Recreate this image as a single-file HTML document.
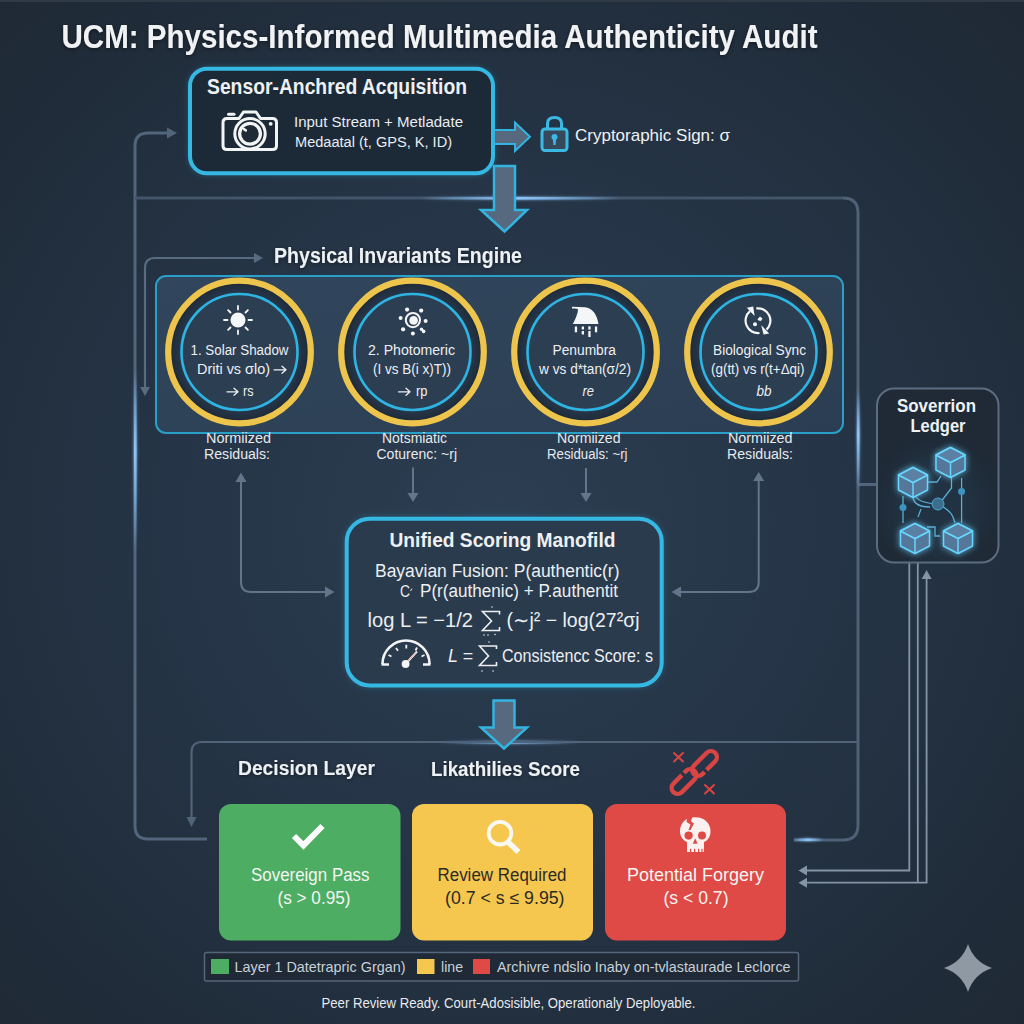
<!DOCTYPE html>
<html><head><meta charset="utf-8">
<style>
html,body{margin:0;padding:0;width:1024px;height:1024px;overflow:hidden;background:#1f2833;}
svg{display:block;}
text{font-family:"Liberation Sans",sans-serif;}
</style></head>
<body>
<svg width="1024" height="1024" viewBox="0 0 1024 1024">
<defs>
  <radialGradient id="bg" cx="500" cy="520" r="760" gradientUnits="userSpaceOnUse">
    <stop offset="0" stop-color="#2c3e52"/>
    <stop offset="0.45" stop-color="#253446"/>
    <stop offset="0.8" stop-color="#202c39"/>
    <stop offset="1" stop-color="#1e2834"/>
  </radialGradient>
  <filter id="glow" x="-20%" y="-20%" width="140%" height="140%">
    <feGaussianBlur stdDeviation="3" result="b"/>
    <feMerge><feMergeNode in="b"/><feMergeNode in="SourceGraphic"/></feMerge>
  </filter>
  <filter id="tsh" x="-5%" y="-30%" width="110%" height="160%">
    <feGaussianBlur in="SourceAlpha" stdDeviation="2"/>
    <feOffset dy="1"/>
    <feComponentTransfer><feFuncA type="linear" slope="0.5"/></feComponentTransfer>
    <feMerge><feMergeNode/><feMergeNode in="SourceGraphic"/></feMerge>
  </filter>
  <marker id="ah" viewBox="0 0 10 10" refX="9" refY="5" markerWidth="4" markerHeight="4" orient="auto-start-reverse" markerUnits="strokeWidth">
    <path d="M0,0 L10,5 L0,10 z" fill="#5c6e82"/>
  </marker>
  <linearGradient id="gh" x1="0" y1="0" x2="1" y2="0">
    <stop offset="0" stop-color="#7ab8f0" stop-opacity="0"/>
    <stop offset="0.5" stop-color="#8cc4f8" stop-opacity="1"/>
    <stop offset="1" stop-color="#7ab8f0" stop-opacity="0"/>
  </linearGradient>
  <linearGradient id="gv" x1="0" y1="0" x2="0" y2="1">
    <stop offset="0" stop-color="#7ab8f0" stop-opacity="0"/>
    <stop offset="0.45" stop-color="#8cc4f8" stop-opacity="1"/>
    <stop offset="1" stop-color="#7ab8f0" stop-opacity="0"/>
  </linearGradient>
  <filter id="soft" x="-50%" y="-50%" width="200%" height="200%">
    <feGaussianBlur stdDeviation="1.6" result="b"/>
    <feMerge><feMergeNode in="b"/><feMergeNode in="SourceGraphic"/></feMerge>
  </filter>
  <linearGradient id="panelg" x1="0" y1="0" x2="1" y2="1">
    <stop offset="0" stop-color="#31465c"/>
    <stop offset="0.5" stop-color="#2e4258"/>
    <stop offset="1" stop-color="#2b3d52"/>
  </linearGradient>
  <radialGradient id="ringg" cx="0" cy="0" r="68.5" gradientUnits="userSpaceOnUse">
    <stop offset="0.8" stop-color="#2c3e52"/>
    <stop offset="0.88" stop-color="#253547"/>
    <stop offset="1" stop-color="#1f2b3a"/>
  </radialGradient>
  <filter id="fglow" x="-10%" y="-10%" width="120%" height="120%">
    <feGaussianBlur in="SourceAlpha" stdDeviation="3" result="b"/>
    <feFlood flood-color="#35b8e4" flood-opacity="0.25"/>
    <feComposite in2="b" operator="in" result="g"/>
    <feMerge><feMergeNode in="g"/><feMergeNode in="SourceGraphic"/></feMerge>
  </filter>
  <filter id="bigblur" x="-50%" y="-50%" width="200%" height="200%">
    <feGaussianBlur stdDeviation="10"/>
  </filter>
</defs>
<rect width="1024" height="1024" fill="url(#bg)"/>
<rect width="1024" height="2" fill="#2f3a45"/>

<!-- TITLE -->
<text x="61.5" y="48" font-size="33" font-weight="bold" fill="#f0f2f4" textLength="756" lengthAdjust="spacingAndGlyphs" filter="url(#tsh)">UCM: Physics-Informed Multimedia Authenticity Audit</text>

<!-- FRAME LINES -->
<g fill="none" stroke="#52657a" stroke-width="3">
  <!-- left outer loop: from bottom (207,839) left, up x=135 to y=146, curve to right arrow -->
  <path d="M207,839 H148 Q135,839 135,826 V146 Q135,133 148,133 H168"/>
  <!-- top horizontal y=198 -->
  <path d="M135,198 H843" stroke="#43556a"/>
  <path d="M843,198 Q858,198 858,213 V825 Q858,840 843,840 H794" stroke="#4f6176"/>
  <!-- connection to ledger -->
  <path d="M858,484.5 H877"/>
</g>
<polygon points="167,127.5 177,133 167,138.5" fill="#52657a"/>
<!-- glow segments on frame -->
<g filter="url(#soft)">
  <rect x="420" y="197" width="200" height="2.5" fill="url(#gh)"/>
  <rect x="134" y="370" width="2.5" height="180" fill="url(#gv)"/>
  <rect x="857" y="390" width="2.5" height="100" fill="url(#gv)"/>
  <rect x="440" y="741" width="140" height="2.5" fill="url(#gh)"/>
  <rect x="793" y="838.5" width="30" height="2.5" fill="url(#gh)"/>
</g>
<!-- engine inner loop -->
<g fill="none" stroke="#586b80" stroke-width="2.2">
  <path d="M145,388 V268 Q145,258 155,258 H255"/>
</g>
<polygon points="254,253 263,258 254,263" fill="#586b80"/>
<polygon points="140,387 145,396 150,387" fill="#586b80"/>

<!-- decision loop -->
<g fill="none" stroke="#506378" stroke-width="2.2">
  <path d="M857,742 H202 Q191.5,742 191.5,752.5 V818"/>
</g>
<polygon points="186.5,817 191.5,827 196.5,817" fill="#506378"/>

<!-- ACQUISITION BOX -->
<rect x="190" y="68.7" width="303" height="104.6" rx="17" fill="#1f2a37" stroke="#35b8e4" stroke-width="4" filter="url(#fglow)"/>
<text x="207" y="93.5" font-size="22" font-weight="bold" fill="#eef1f4" textLength="260" lengthAdjust="spacingAndGlyphs">Sensor-Anchred Acquisition</text>
<!-- camera -->
<g fill="none" stroke="#f2f4f6" stroke-width="3" stroke-linejoin="round" stroke-linecap="round">
  <path d="M239,118.5 L243.5,112 H256 L260.5,118.5 H272.5 Q276.5,118.5 276.5,122.5 V145.5 Q276.5,149.5 272.5,149.5 H227 Q223,149.5 223,145.5 V122.5 Q223,118.5 227,118.5 Z"/>
  <circle cx="250" cy="133.7" r="15.2" fill="#1f2a36"/>
  <circle cx="250" cy="133.7" r="10.4" stroke-width="3.3"/>
  <path d="M228.5,114.2 H234"/>
  <path d="M243.8,129 L245.8,130.4" stroke-width="2.6"/>
</g>
<circle cx="270.7" cy="123.8" r="1.9" fill="#f2f4f6"/>
<text x="294" y="126.5" font-size="14" fill="#e9edf1" textLength="169" lengthAdjust="spacingAndGlyphs">Input Stream + Metladate</text>
<text x="295" y="146.5" font-size="14" fill="#e9edf1" textLength="157" lengthAdjust="spacingAndGlyphs">Medaatal (t, GPS, K, ID)</text>

<!-- right arrow -->
<polygon points="494,130 515,130 515,122.5 530,136.8 515,151 515,144 494,144" fill="#56697e" stroke="#33b4e0" stroke-width="2" stroke-linejoin="miter"/>
<!-- lock -->
<g fill="none" stroke="#3ab9e4" stroke-width="3">
  <path d="M547.5,129 V123.5 Q547.5,117.5 554.5,117.5 Q561.5,117.5 561.5,123.5 V129"/>
  <rect x="542" y="129" width="25" height="21.5" rx="3" fill="#36495c"/>
</g>
<circle cx="554.5" cy="137" r="3" fill="#3ab9e4"/>
<path d="M552.8,138 H556.2 L555.6,145 H553.4 Z" fill="#3ab9e4"/>
<text x="575" y="141.3" font-size="17" fill="#eef1f4" textLength="155" lengthAdjust="spacingAndGlyphs">Cryptoraphic Sign: σ</text>

<!-- down arrow 1 -->
<polygon points="494,166 515,166 515,210 527,210 504.5,231.5 481,210 494,210" fill="#56697e" stroke="#33b4e0" stroke-width="2.5"/>

<!-- ENGINE -->
<text x="274" y="263.3" font-size="22" font-weight="bold" fill="#eef1f4" textLength="248" lengthAdjust="spacingAndGlyphs" filter="url(#tsh)">Physical Invariants Engine</text>
<rect x="156" y="276" width="687" height="157" rx="10" fill="url(#panelg)" stroke="#2a9fc8" stroke-width="2"/>
<g id="circ">
  <g transform="translate(239.5,352)">
    <circle r="68.5" fill="url(#ringg)"/>
    <circle r="71.3" fill="none" stroke="#eec54c" stroke-width="6.2"/>
    <circle r="58" fill="#2c3e52" stroke="#2db4e2" stroke-width="2.6"/>
  </g>
  <g transform="translate(412.5,352)">
    <circle r="68.5" fill="url(#ringg)"/>
    <circle r="71.3" fill="none" stroke="#eec54c" stroke-width="6.2"/>
    <circle r="58" fill="#2c3e52" stroke="#2db4e2" stroke-width="2.6"/>
  </g>
  <g transform="translate(585.5,352)">
    <circle r="68.5" fill="url(#ringg)"/>
    <circle r="71.3" fill="none" stroke="#eec54c" stroke-width="6.2"/>
    <circle r="58" fill="#2c3e52" stroke="#2db4e2" stroke-width="2.6"/>
  </g>
  <g transform="translate(758.5,352)">
    <circle r="68.5" fill="url(#ringg)"/>
    <circle r="71.3" fill="none" stroke="#eec54c" stroke-width="6.2"/>
    <circle r="58" fill="#2c3e52" stroke="#2db4e2" stroke-width="2.6"/>
  </g>
</g>
<g fill="#eceff2" font-size="14">
  <text x="190.5" y="355" textLength="98" lengthAdjust="spacingAndGlyphs">1. Solar Shadow</text>
  <text x="197" y="374" textLength="73" lengthAdjust="spacingAndGlyphs">Driti vs σlo)</text>
  <text x="243" y="396" textLength="10.5" lengthAdjust="spacingAndGlyphs">rs</text>
  <text x="368" y="355" textLength="87" lengthAdjust="spacingAndGlyphs">2. Photomeric</text>
  <text x="373" y="374" textLength="78" lengthAdjust="spacingAndGlyphs">(I vs B(i x)T))</text>
  <text x="416" y="396" textLength="11.5" lengthAdjust="spacingAndGlyphs">rp</text>
  <text x="552.5" y="355" textLength="63.5" lengthAdjust="spacingAndGlyphs">Penumbra</text>
  <text x="539" y="374" textLength="92" lengthAdjust="spacingAndGlyphs">w vs d*tan(σ/2)</text>
  <text x="582.5" y="396" font-style="italic" textLength="11.5" lengthAdjust="spacingAndGlyphs">re</text>
  <text x="713" y="355" textLength="93" lengthAdjust="spacingAndGlyphs">Biological Sync</text>
  <text x="711" y="374" textLength="93.5" lengthAdjust="spacingAndGlyphs">(g(tt) vs r(t+Δqi)</text>
  <text x="756.5" y="396" font-style="italic" textLength="15" lengthAdjust="spacingAndGlyphs">bb</text>
</g>
<g fill="none" stroke="#eceff2" stroke-width="1.3" stroke-linecap="round" stroke-linejoin="round">
  <path d="M274,369.8 H286 M282,366.3 L286,369.8 L282,373.3"/>
  <path d="M227,391.8 H238 M234,388.3 L238,391.8 L234,395.3"/>
  <path d="M398.5,391.8 H410 M406,388.3 L410,391.8 L406,395.3"/>
</g>
<!-- circle icons -->
<g fill="#f4f6f8" stroke="#f4f6f8" stroke-width="1.8" stroke-linecap="round">
  <!-- sun -->
  <circle cx="238" cy="320" r="7.5" stroke="none"/>
  <path d="M238,306 V309.5 M238,330.5 V334 M224,320 H227.5 M248.5,320 H252 M228.1,310.1 L230.5,312.5 M245.5,327.5 L247.9,329.9 M228.1,329.9 L230.5,327.5 M245.5,312.5 L247.9,310.1"/>
  <!-- photometric -->
  <circle cx="412.9" cy="320.1" r="7.1" fill="none" stroke-width="2.1"/>
  <circle cx="413.6" cy="320.4" r="4.3" stroke="none"/>
  <g stroke="none">
    <circle cx="407.1" cy="309.6" r="2.1"/><circle cx="421.2" cy="310.6" r="2.1"/>
    <circle cx="400.6" cy="318" r="2"/><circle cx="425.6" cy="321" r="2"/>
    <circle cx="403.1" cy="329.3" r="2.1"/><circle cx="412.9" cy="333.5" r="2"/>
    <circle cx="421.5" cy="329.2" r="1.7"/><circle cx="423.6" cy="331.4" r="1.8"/>
  </g>
  <!-- penumbra -->
  <path d="M572,306.8 L585,307.3 C592,308 597,314 598.5,324 L572.8,324 C576,318 578,313 578,309 C576,308.6 574,308.6 572,308.6 Z" stroke="none"/>
  <g stroke="none">
    <rect x="574.8" y="326.5" width="2.3" height="5.8"/>
    <rect x="581.7" y="326.5" width="2.3" height="3"/>
    <rect x="581.7" y="331" width="2.3" height="3.5"/>
    <rect x="588.3" y="326.3" width="2.3" height="3.3"/>
    <rect x="588.3" y="331" width="2.3" height="6"/>
    <rect x="594.9" y="326.5" width="2.3" height="5.8"/>
  </g>
  <!-- sync -->
  <path d="M756.3,308.4 A12.4,12.4 0 0 1 766.6,329.6 M759.5,333 A12.4,12.4 0 0 1 750,311.2" fill="none" stroke-width="2.2" stroke-linecap="butt"/>
  <polygon points="746.8,307.8 753.2,306.4 754.6,316" stroke="none"/>
  <polygon points="761.2,325.2 769.2,333.4 763.6,334.6" stroke="none"/>
  <path d="M757.5,319.2 L760,316.5 L762.5,318.5 L761,321 L758.5,320.5 Z" stroke="none"/>
  <circle cx="755" cy="324.2" r="2" stroke="none"/>
</g>

<!-- labels below panel -->
<g fill="#e6eaee" font-size="14">
  <text x="206" y="442.7" textLength="65" lengthAdjust="spacingAndGlyphs">Normiized</text>
  <text x="204" y="458.7" textLength="66" lengthAdjust="spacingAndGlyphs">Residuals:</text>
  <text x="382" y="442.7" textLength="65" lengthAdjust="spacingAndGlyphs">Notsmiatic</text>
  <text x="376.5" y="458.7" textLength="80.5" lengthAdjust="spacingAndGlyphs">Coturenc: ~rj</text>
  <text x="557" y="442.7" textLength="63.5" lengthAdjust="spacingAndGlyphs">Normiized</text>
  <text x="547" y="458.7" textLength="80.5" lengthAdjust="spacingAndGlyphs">Residuals: ~rj</text>
  <text x="728" y="442.7" textLength="64.5" lengthAdjust="spacingAndGlyphs">Normiized</text>
  <text x="727" y="458.7" textLength="66" lengthAdjust="spacingAndGlyphs">Residuals:</text>
</g>

<!-- small arrows between engine and manifold -->
<g fill="none" stroke="#62758a" stroke-width="2">
  <path d="M241,482 V582 Q241,592 251,592 H326"/>
  <path d="M413,467.5 V494"/>
  <path d="M586,468 V494"/>
  <path d="M758.7,481 V582 Q758.7,592 748.7,592 H680"/>
</g>
<g fill="#62758a">
  <polygon points="235.5,482 241,472.5 246.5,482"/>
  <polygon points="325,586.5 334.5,592 325,597.5"/>
  <polygon points="407.5,493 413,502 418.5,493"/>
  <polygon points="580.5,493 586,502 591.5,493"/>
  <polygon points="753.2,481 758.7,472 764.2,481"/>
  <polygon points="681,586.5 671.5,592 681,597.5"/>
</g>

<!-- MANIFOLD -->
<rect x="346.7" y="518.7" width="315" height="166.8" rx="23" fill="#2b3b4e" stroke="#35b8e4" stroke-width="4" filter="url(#fglow)"/>
<text x="389.5" y="546.5" font-size="20" font-weight="bold" fill="#eef1f4" textLength="226" lengthAdjust="spacingAndGlyphs">Unified Scoring Manofild</text>
<g fill="#eceff2">
  <text x="375" y="577" font-size="18" textLength="244.5" lengthAdjust="spacingAndGlyphs">Bayavian Fusion: P(authentic(r)</text>
  <text x="400" y="597" font-size="16" textLength="10" lengthAdjust="spacingAndGlyphs">C</text>
  <text x="420" y="597" font-size="18" textLength="198" lengthAdjust="spacingAndGlyphs">P(r(authenic) + P.authentit</text>
  <text x="367.5" y="627" font-size="20" textLength="105.5" lengthAdjust="spacingAndGlyphs">log L = −1/2</text>
  <text x="506.5" y="627" font-size="20" textLength="133" lengthAdjust="spacingAndGlyphs">(∼j² − log(27²σj</text>
  <text x="448" y="662" font-size="18" font-style="italic" textLength="25" lengthAdjust="spacingAndGlyphs">L =</text>
  <text x="502" y="662" font-size="18.5" textLength="151" lengthAdjust="spacingAndGlyphs">Consistencc Score: s</text>
</g>
<g fill="none" stroke="#eceff2" stroke-width="1.6" stroke-linejoin="miter">
  <path d="M499.5,614.5 V611.5 H482.5 L491.5,621 L482.5,630.5 H499.5 V627"/>
  <path d="M496.5,649 V646 H479.5 L488.5,656 L479.5,665.5 H496.5 V662"/>
</g>
<g fill="#dfe4ea">
  <circle cx="484" cy="635" r="0.8"/><circle cx="488" cy="635" r="0.8"/><circle cx="495" cy="634.5" r="0.8"/>
  <circle cx="492" cy="607" r="0.8"/><path d="M410.5,591 L412,588.5" stroke="#e6eaee" stroke-width="1"/><circle cx="489" cy="642" r="0.8"/>
  <circle cx="482" cy="671" r="0.8"/><circle cx="493" cy="671" r="0.8"/>
</g>
<!-- gauge -->
<g fill="none" stroke="#f2f4f6" stroke-width="2.6" stroke-linecap="butt">
  <path d="M382.5,664 A23.5,23.5 0 0 1 429.5,664"/>
  <path d="M381.5,664.5 H389 M423,664.5 H430.5"/>
  <path d="M388.5,655 L391.5,656.5 M396,648 L398,650.8 M406.3,644.8 V648.5 M417,647.5 L415.5,650.5 M424.5,655 L421.5,656.5" stroke-width="1.8"/>
  <path d="M405.5,664 L417,651.5" stroke-width="2"/>
</g>
<path d="M407,662 L416,652.5" stroke="#e8785a" stroke-width="0.8"/>
<circle cx="405.6" cy="664" r="3.9" fill="#f2f4f6"/>

<!-- down arrow 2 -->
<polygon points="493.5,700.5 514.5,700.5 514.5,727.5 527,727.5 504,748.5 481,727.5 493.5,727.5" fill="#56697e" stroke="#33b4e0" stroke-width="2.5"/>

<!-- DECISION LAYER -->
<text x="238" y="775.3" font-size="20" font-weight="bold" fill="#eef1f4" textLength="137" lengthAdjust="spacingAndGlyphs" filter="url(#tsh)">Decision Layer</text>
<text x="431" y="775.5" font-size="20" font-weight="bold" fill="#eef1f4" textLength="149" lengthAdjust="spacingAndGlyphs" filter="url(#tsh)">Likathilies Score</text>
<!-- broken chain -->
<g fill="none" stroke="#d94542" stroke-width="4.4" stroke-linecap="butt">
  <path transform="translate(704.5,763.5) rotate(-45)" d="M-3,6 H9 A6,6 0 0 0 9,-6 H-9 A6,6 0 0 0 -9,6 H-6"/>
  <path transform="translate(684,781.5) rotate(-45)" d="M3,-6 H-9 A6,6 0 0 0 -9,6 H9 A6,6 0 0 0 9,-6 H6"/>
</g>
<g stroke="#d94542" stroke-width="2" stroke-linecap="round">
  <path d="M674,753 L683,761.5 M683,753 L674,761.5"/>
  <path d="M705,785 L714,793.5 M714,785 L705,793.5"/>
</g>

<!-- decision boxes -->
<rect x="219" y="804" width="181.5" height="136.5" rx="12" fill="#4cad63"/>
<rect x="412" y="804" width="181" height="136.5" rx="12" fill="#f6c74f"/>
<rect x="605" y="804" width="181" height="136.5" rx="12" fill="#df4a46"/>
<!-- check -->
<path d="M294,836 L303.4,845.4 L322.5,826" fill="none" stroke="#fbfbfb" stroke-width="6"/>
<!-- magnifier -->
<g fill="none" stroke="#faf8f2">
  <circle cx="500" cy="833.2" r="11.3" stroke-width="3.8"/>
  <path d="M507.5,841.5 L518.5,852" stroke-width="5.5"/>
</g>
<!-- skull -->
<path d="M695,817.3 C704.5,817.3 710.5,823.5 710.5,831 C710.5,836.5 708.5,840 704,842 V852 H687 V842 C682.5,840 680,836.5 680,831 C680,823.5 685.5,817.3 695,817.3 Z" fill="#fbf1f0"/>
<g fill="#df4a46">
  <circle cx="688.6" cy="835.6" r="4.1"/>
  <circle cx="702" cy="835.6" r="4"/>
  <path d="M695.2,838.2 L692.8,843.8 H697.6 Z"/>
  <rect x="690" y="848.8" width="1.2" height="3.5"/>
  <rect x="694" y="848.8" width="1.2" height="3.5"/>
  <rect x="698" y="848.8" width="1.2" height="3.5"/>
  <rect x="701.4" y="848.8" width="1.2" height="3.5"/>
  <path d="M687.5,816.5 L692.5,816.5 L691,821.5 L694,823.5 L690.5,830 L688.5,830 L690.5,824.5 L686.5,822 Z"/>
</g>
<g fill="#f4f6f3" font-size="17.5">
  <text x="251" y="881.3" textLength="118.5" lengthAdjust="spacingAndGlyphs">Sovereign Pass</text>
  <text x="277.5" y="904" textLength="73" lengthAdjust="spacingAndGlyphs">(s &gt; 0.95)</text>
  <text x="627" y="881.3" textLength="137" lengthAdjust="spacingAndGlyphs">Potential Forgery</text>
  <text x="663.5" y="904" textLength="65" lengthAdjust="spacingAndGlyphs">(s &lt; 0.7)</text>
</g>
<g fill="#2b2a26" font-size="17.5">
  <text x="437.5" y="881.3" textLength="129" lengthAdjust="spacingAndGlyphs">Review Required</text>
  <text x="445" y="904" textLength="119.5" lengthAdjust="spacingAndGlyphs">(0.7 &lt; s ≤ 9.95)</text>
</g>

<!-- LEGEND -->
<rect x="204.5" y="952.5" width="594" height="28.5" rx="2" fill="#1f2a36" stroke="#56667a" stroke-width="1.5"/>
<rect x="211" y="959" width="18" height="15" fill="#4cad63"/>
<rect x="417" y="959" width="17.5" height="15" fill="#f6c74f"/>
<rect x="473" y="959" width="17" height="15" fill="#df4a46"/>
<g fill="#c9d0d8" font-size="15">
  <text x="234.5" y="972.3" textLength="171" lengthAdjust="spacingAndGlyphs">Layer 1  Datetrapric Grgan)</text>
  <text x="441" y="972.3" textLength="22" lengthAdjust="spacingAndGlyphs">line</text>
  <text x="497" y="972.3" textLength="293.5" lengthAdjust="spacingAndGlyphs">Archivre ndslio Inaby on-tvlastaurade Leclorce</text>
</g>
<text x="321.5" y="1007.7" font-size="14" fill="#e6eaee" textLength="374" lengthAdjust="spacingAndGlyphs">Peer Review Ready. Court-Adosisible, Operationaly Deployable.</text>
<!-- star -->
<path d="M968,944 Q974,962 992,968 Q974,974 968,992 Q962,974 944,968 Q962,962 968,944 Z" fill="#8f99a3"/>

<!-- LEDGER -->
<g fill="none" stroke="#8494a5" stroke-width="1.8">
  <path d="M909.3,563 V870.5 H806"/>
  <path d="M917.8,563 V882"/>
  <path d="M926.6,579 V882.7 H806"/>
</g>
<g fill="#8494a5">
  <polygon points="807,865.5 798.5,870.5 807,875.5"/>
  <polygon points="807,877.7 798.5,882.7 807,887.7"/>
  <polygon points="921.6,579 926.6,570 931.6,579"/>
</g>
<rect x="877" y="388.5" width="121.5" height="174" rx="17" fill="#1f2a36" stroke="#5d6d7f" stroke-width="2"/>
<text x="897" y="412.3" font-size="17.5" font-weight="bold" fill="#eef1f4" textLength="79" lengthAdjust="spacingAndGlyphs">Soverrion</text>
<text x="910.5" y="432.3" font-size="17.5" font-weight="bold" fill="#eef1f4" textLength="55" lengthAdjust="spacingAndGlyphs">Ledger</text>
<ellipse cx="936" cy="505" rx="48" ry="55" fill="#2f5a7a" opacity="0.18" filter="url(#bigblur)"/>
<!-- network lines -->
<g fill="none" stroke="#5aaed6" stroke-width="1.3">
  <path d="M927,482 H937 L941,476"/>
  <path d="M951.5,478 V488 L940,503"/>
  <path d="M916,497 Q920,503 938,504"/>
  <path d="M913,498 Q915,507 930,507"/>
  <path d="M903,496 V523"/>
  <path d="M961.6,478 V523"/>
  <path d="M938,504 Q950,510 953,517 L955,523"/>
  <path d="M927,527 H935 V536 H940"/>
  <path d="M921,509 L918,517"/>
</g>
<g id="cubes" stroke="#66d6ff" stroke-width="1.5" stroke-linejoin="round" filter="url(#glow)">
  <g transform="translate(950.5,462.5)">
    <path d="M0,-15 L14.5,-7.5 V7.5 L0,15 L-14.5,7.5 V-7.5 Z" fill="#54779a"/>
    <path d="M-14.5,-7.5 L0,0 L14.5,-7.5 M0,0 V15" fill="none"/>
    <path d="M0,-15 L14.5,-7.5 L0,0 L-14.5,-7.5 Z" fill="#5b80a3"/>
  </g>
  <g transform="translate(913,482.5)">
    <path d="M0,-15 L14.5,-7.5 V7.5 L0,15 L-14.5,7.5 V-7.5 Z" fill="#54779a"/>
    <path d="M-14.5,-7.5 L0,0 L14.5,-7.5 M0,0 V15" fill="none"/>
    <path d="M0,-15 L14.5,-7.5 L0,0 L-14.5,-7.5 Z" fill="#5b80a3"/>
  </g>
  <g transform="translate(915,538.5)">
    <path d="M0,-15 L14.5,-7.5 V7.5 L0,15 L-14.5,7.5 V-7.5 Z" fill="#54779a"/>
    <path d="M-14.5,-7.5 L0,0 L14.5,-7.5 M0,0 V15" fill="none"/>
    <path d="M0,-15 L14.5,-7.5 L0,0 L-14.5,-7.5 Z" fill="#5b80a3"/>
  </g>
  <g transform="translate(958,538.5)">
    <path d="M0,-15 L14.5,-7.5 V7.5 L0,15 L-14.5,7.5 V-7.5 Z" fill="#54779a"/>
    <path d="M-14.5,-7.5 L0,0 L14.5,-7.5 M0,0 V15" fill="none"/>
    <path d="M0,-15 L14.5,-7.5 L0,0 L-14.5,-7.5 Z" fill="#5b80a3"/>
  </g>
</g>
<circle cx="938" cy="504" r="6" fill="#3e6e8e" stroke="#4aa6d0" stroke-width="1"/>
<circle cx="903" cy="507.5" r="3.5" fill="#3d93bf"/>
<circle cx="961.6" cy="491.5" r="3.5" fill="#3d93bf"/>

</svg>
</body></html>
